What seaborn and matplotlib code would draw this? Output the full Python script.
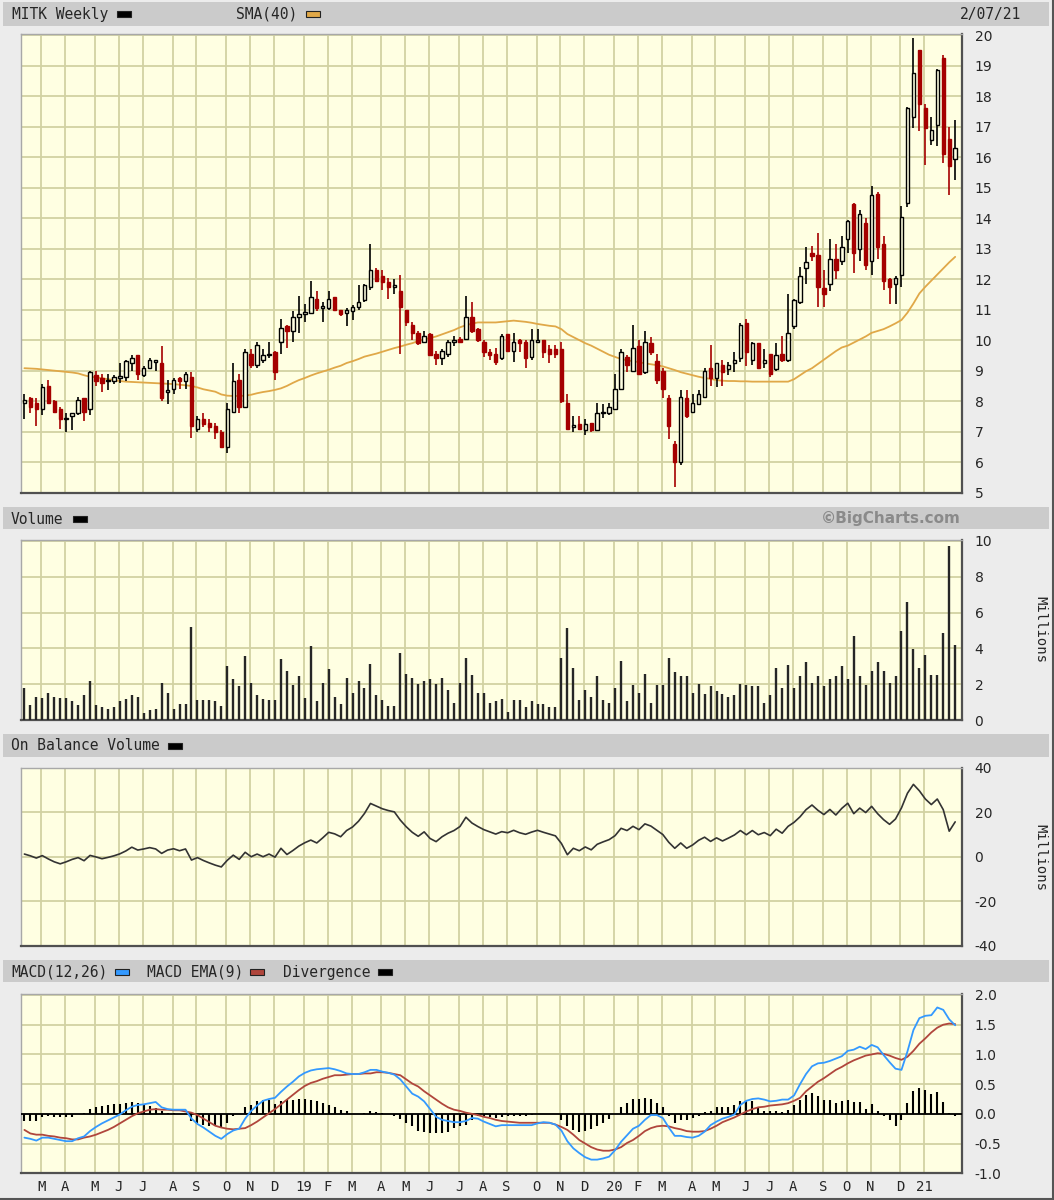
import numpy as np
import pandas as pd
import seaborn as sns
import matplotlib.pyplot as plt
from matplotlib.patches import Rectangle
from matplotlib.lines import Line2D

sns.set_style("white")
plt.rcParams["font.family"] = ["DejaVu Sans", "DejaVu Sans Mono"]
plt.rcParams["axes.unicode_minus"] = False

# weekly bars, one per week (week labelled by its Sunday)
weeks = pd.date_range("2018-02-11", periods=157, freq="W-SUN")

opens = [7.95, 8.1, 7.95, 7.75, 8.5, 8.0, 7.75, 7.4, 7.5, 7.6,
         8.1, 7.75, 8.85, 8.75, 8.65, 8.65, 8.75, 8.8, 9.25, 9.5,
         8.85, 9.1, 9.3, 9.25, 8.3, 8.4, 8.75, 8.65, 8.8, 7.1,
         7.4, 7.3, 7.2, 7.0, 6.5, 7.65, 8.7, 7.8, 9.55, 9.2,
         9.35, 9.5, 9.6, 9.95, 10.45, 10.3, 10.75, 10.85, 10.9, 11.35,
         11.05, 11.05, 11.4, 11.0, 10.9, 10.95, 11.1, 11.3, 11.75, 12.3,
         12.1, 11.9, 11.75, 11.6, 11.0, 10.5, 10.25, 9.95, 10.2, 9.55,
         9.4, 9.55, 9.95, 10.05, 10.05, 10.75, 10.35, 9.95, 9.6, 9.55,
         9.4, 10.2, 9.65, 10.0, 9.95, 9.45, 9.95, 10.0, 9.7, 9.7,
         9.7, 7.95, 7.15, 7.25, 7.05, 7.3, 7.05, 7.6, 7.62, 7.75,
         8.4, 9.45, 9.0, 9.8, 8.95, 9.9, 9.3, 9.0, 8.1, 6.6,
         6.0, 8.1, 7.65, 7.9, 8.15, 9.1, 8.75, 9.2, 9.05, 9.25,
         9.4, 10.55, 9.35, 9.9, 9.25, 9.55, 9.05, 9.55, 9.35, 10.45,
         11.25, 12.35, 12.85, 12.8, 11.7, 11.85, 12.65, 12.6, 13.3, 14.45,
         13.0, 13.85, 12.6, 14.8, 13.15, 12.0, 11.85, 12.15, 14.5, 17.3,
         19.5, 17.6, 16.55, 17.05, 19.25, 16.6, 15.95]
highs = [8.25, 8.15, 8.1, 8.55, 8.7, 8.05, 7.8, 7.6, 7.6, 8.15,
         8.1, 9.0, 9.0, 8.9, 8.9, 8.85, 9.25, 9.35, 9.5, 9.5,
         9.15, 9.4, 9.35, 9.8, 8.7, 8.75, 8.8, 8.95, 8.95, 7.5,
         7.6, 7.4, 7.3, 7.05, 7.95, 9.25, 8.9, 9.7, 9.7, 9.95,
         9.7, 9.95, 9.65, 10.7, 10.5, 10.95, 11.45, 11.2, 11.95, 11.6,
         11.25, 11.6, 11.4, 11.0, 11.05, 11.15, 11.8, 11.85, 13.15, 12.35,
         12.3, 12.05, 12.0, 12.15, 11.0, 10.6, 10.3, 10.3, 10.25, 9.65,
         9.7, 10.0, 10.15, 10.1, 11.45, 11.25, 10.4, 10.0, 9.7, 9.75,
         10.2, 10.2, 10.25, 10.05, 10.0, 10.35, 10.35, 10.0, 9.85, 9.85,
         9.95, 8.25, 7.5, 7.5, 7.4, 7.3, 7.95, 7.9, 7.95, 8.9,
         9.7, 9.5, 10.5, 10.0, 10.3, 10.1, 9.55, 9.1, 8.2, 6.7,
         8.35, 8.35, 8.25, 8.35, 9.1, 9.85, 9.25, 9.35, 9.3, 9.6,
         10.55, 10.7, 9.95, 9.9, 9.7, 9.55, 9.9, 10.15, 11.5, 11.35,
         12.4, 13.05, 13.1, 13.5, 12.3, 13.3, 13.15, 13.4, 13.95, 14.5,
         14.25, 14.0, 15.05, 14.85, 13.4, 12.05, 12.1, 14.4, 17.65, 19.9,
         19.5, 17.75, 17.3, 18.9, 19.35, 17.0, 17.2]
lows = [7.4, 7.6, 7.2, 7.55, 7.9, 7.6, 7.1, 6.98, 7.05, 7.55,
        7.35, 7.55, 8.5, 8.3, 8.35, 8.55, 8.6, 8.65, 9.0, 8.7,
        8.8, 9.05, 9.0, 8.0, 7.9, 8.25, 8.4, 8.4, 6.8, 7.0,
        7.15, 7.0, 6.75, 6.45, 6.3, 7.6, 7.6, 7.8, 9.1, 9.1,
        9.25, 9.4, 8.7, 9.55, 9.75, 9.95, 10.25, 10.6, 10.85, 10.95,
        10.6, 11.0, 10.95, 10.8, 10.45, 10.65, 11.0, 11.25, 11.65, 11.9,
        11.65, 11.35, 11.5, 9.55, 10.45, 10.0, 9.85, 9.9, 9.5, 9.2,
        9.2, 9.45, 9.8, 9.9, 10.05, 10.25, 9.95, 9.45, 9.35, 9.2,
        9.35, 9.6, 9.3, 9.6, 9.1, 9.35, 9.9, 9.4, 9.25, 9.4,
        7.95, 7.1, 7.0, 7.05, 6.9, 7.0, 7.05, 7.45, 7.55, 7.7,
        8.35, 8.95, 8.95, 8.9, 8.9, 9.5, 8.55, 8.1, 6.75, 5.2,
        5.9, 7.45, 7.6, 7.9, 8.1, 8.5, 8.45, 8.5, 8.85, 8.95,
        9.3, 9.15, 9.2, 9.1, 9.1, 8.8, 9.0, 9.3, 9.3, 10.35,
        11.2, 11.85, 12.6, 11.1, 11.1, 11.6, 12.0, 12.45, 12.85, 12.2,
        12.6, 12.3, 12.15, 12.65, 11.65, 11.2, 11.2, 11.75, 14.35, 16.95,
        16.85, 15.75, 16.4, 16.35, 15.8, 14.75, 15.25]
closes = [8.05, 7.8, 7.75, 8.45, 7.95, 7.65, 7.4, 7.45, 7.6, 8.05,
          7.65, 8.95, 8.65, 8.6, 8.7, 8.8, 8.8, 9.3, 9.4, 8.9,
          9.1, 9.35, 9.32, 8.1, 8.35, 8.7, 8.65, 8.9, 7.2, 7.4,
          7.25, 7.15, 7.0, 6.5, 7.75, 8.65, 7.8, 9.6, 9.2, 9.85,
          9.5, 9.55, 8.95, 10.4, 10.3, 10.75, 10.85, 10.9, 11.4, 11.05,
          11.1, 11.35, 11.0, 10.85, 11.0, 11.1, 11.25, 11.8, 12.3, 11.95,
          11.9, 11.75, 11.78, 11.1, 10.6, 10.25, 9.9, 10.15, 9.5, 9.4,
          9.65, 9.95, 10.0, 9.95, 10.75, 10.3, 10.0, 9.6, 9.5, 9.3,
          10.15, 9.65, 9.95, 9.9, 9.4, 10.0, 10.0, 9.6, 9.55, 9.55,
          8.0, 7.1, 7.2, 7.1, 7.25, 7.05, 7.6, 7.65, 7.8, 8.4,
          9.6, 9.2, 9.75, 8.9, 9.95, 9.6, 8.7, 8.4, 7.2, 6.0,
          8.15, 7.5, 7.95, 8.25, 9.0, 8.75, 9.25, 8.95, 9.2, 9.35,
          10.5, 9.6, 9.9, 9.1, 9.35, 8.9, 9.5, 9.35, 10.25, 11.3,
          12.1, 12.55, 12.75, 11.75, 11.5, 12.65, 12.3, 13.05, 13.9, 12.85,
          14.15, 12.45, 14.75, 13.05, 11.95, 11.75, 12.05, 14.05, 17.6, 18.75,
          17.75, 16.95, 16.9, 18.85, 16.1, 15.7, 16.3]
sma40 = [9.08, 9.07, 9.06, 9.04, 9.02, 9.0, 8.98, 8.96, 8.94, 8.91,
         8.85, 8.8, 8.78, 8.75, 8.72, 8.69, 8.66, 8.64, 8.63, 8.62,
         8.61, 8.6, 8.59, 8.58, 8.57, 8.56, 8.54, 8.52, 8.5, 8.45,
         8.39, 8.35, 8.31, 8.22, 8.18, 8.17, 8.17, 8.18, 8.21, 8.26,
         8.3, 8.33, 8.37, 8.42, 8.5, 8.6, 8.69, 8.76, 8.84, 8.91,
         8.97, 9.03, 9.1, 9.16, 9.25, 9.31, 9.38, 9.46, 9.51, 9.56,
         9.62, 9.68, 9.74, 9.79, 9.85, 9.9, 9.97, 10.03, 10.07, 10.12,
         10.19, 10.26, 10.33, 10.42, 10.49, 10.54, 10.58, 10.58, 10.58, 10.58,
         10.6, 10.62, 10.64, 10.62, 10.6, 10.57, 10.53, 10.5, 10.47, 10.45,
         10.36, 10.2, 10.1, 10.0, 9.9, 9.82, 9.72, 9.62, 9.52, 9.45,
         9.38, 9.34, 9.31, 9.28, 9.24, 9.21, 9.18, 9.14, 9.08, 9.02,
         8.95, 8.9, 8.85, 8.8, 8.76, 8.73, 8.69, 8.67, 8.66, 8.66,
         8.65, 8.65, 8.64, 8.64, 8.64, 8.64, 8.64, 8.64, 8.64, 8.72,
         8.85, 8.98, 9.08, 9.22, 9.36, 9.5, 9.64, 9.76, 9.82, 9.92,
         10.02, 10.12, 10.24, 10.3, 10.36, 10.45, 10.55, 10.66, 10.9, 11.2,
         11.53, 11.75, 11.95, 12.15, 12.35, 12.55, 12.73]
volume = [1.8, 0.83, 1.3, 1.24, 1.54, 1.3, 1.24, 1.24, 1.06, 0.83,
          1.39, 2.19, 0.83, 0.74, 0.65, 0.74, 1.06, 1.2, 1.39, 1.3,
          0.41, 0.56, 0.65, 2.09, 1.54, 0.65, 0.89, 0.89, 5.19, 1.15,
          1.15, 1.15, 1.06, 0.8, 3.0, 2.28, 1.89, 3.57, 2.09, 1.39,
          1.2, 1.15, 1.15, 3.43, 2.74, 1.94, 2.44, 1.24, 4.13, 1.06,
          2.09, 2.85, 1.3, 0.89, 2.35, 1.54, 2.19, 1.8, 3.15, 1.39,
          1.15, 0.8, 0.8, 3.74, 2.59, 2.35, 2.04, 2.19, 2.28, 2.04,
          2.35, 1.7, 0.98, 2.09, 3.48, 2.54, 1.54, 1.54, 0.98, 1.06,
          1.2, 0.46, 1.15, 1.15, 0.74, 1.06, 0.89, 0.89, 0.74, 0.74,
          3.48, 5.13, 2.93, 1.15, 1.7, 1.3, 2.44, 1.15, 0.98, 1.8,
          3.33, 1.06, 1.94, 1.54, 2.59, 0.98, 1.94, 1.94, 3.48, 2.69,
          2.44, 2.44, 1.54, 2.04, 1.44, 1.89, 1.63, 1.44, 1.3, 1.39,
          2.04, 1.94, 1.89, 1.89, 0.98, 1.39, 2.93, 1.8, 3.09, 1.8,
          2.44, 3.24, 2.09, 2.44, 1.89, 2.28, 2.44, 3.0, 2.28, 4.69,
          2.44, 1.94, 2.74, 3.24, 2.74, 2.09, 2.44, 4.96, 6.59, 3.98,
          2.93, 3.65, 2.5, 2.5, 4.85, 9.69, 4.22]
obv = [1.2, 0.4, -0.6, 0.5, -1.0, -2.3, -3.2, -2.3, -1.2, -0.4,
       -1.8, 0.6, -0.1, -0.9, -0.3, 0.4, 1.3, 2.6, 4.3, 3.0,
       3.5, 4.1, 3.5, 1.5, 3.0, 3.6, 2.7, 3.5, -1.5, -0.4,
       -1.7, -2.8, -3.8, -4.6, -1.6, 0.7, -1.2, 2.0, 0.0, 1.2,
       0.0, 1.2, -0.2, 3.8, 1.0, 2.8, 4.8, 6.3, 7.5, 6.2,
       8.5, 11.0, 10.3, 9.0, 11.8, 13.4, 16.0, 19.5, 24.0, 22.8,
       21.6, 20.8, 20.2, 16.5, 13.5, 11.0, 9.2, 11.2, 8.2, 6.8,
       9.0, 10.6, 11.8, 13.6, 17.8, 15.2, 13.6, 12.2, 11.2, 10.2,
       11.3, 10.8, 11.9, 10.8, 10.1, 11.1, 11.9, 11.0, 10.2, 9.4,
       6.0, 0.9, 3.8, 2.7, 4.4, 3.1, 5.6, 6.7, 7.7, 9.5,
       12.8, 11.8, 13.7, 12.2, 14.8, 13.8, 11.9, 10.0, 6.5, 3.8,
       6.2, 3.8, 5.3, 7.4, 8.8, 6.9, 8.5, 7.1, 8.4, 9.8,
       11.8, 9.9, 11.8, 9.9, 10.9, 9.5, 12.4, 10.6, 13.7, 15.5,
       18.0, 21.2, 23.3, 20.9, 19.0, 21.3, 18.8, 21.8, 24.1, 19.4,
       21.9, 19.9, 22.7, 19.4, 16.7, 14.6, 17.0, 22.0, 28.6, 32.6,
       29.7, 26.0, 23.5, 26.0, 21.2, 11.5, 15.7]
macd = [-0.40, -0.42, -0.45, -0.40, -0.40, -0.42, -0.44, -0.46, -0.46, -0.41,
        -0.38, -0.29, -0.22, -0.16, -0.11, -0.06, -0.01, 0.06, 0.12, 0.15,
        0.16, 0.18, 0.20, 0.11, 0.08, 0.07, 0.07, 0.07, -0.08, -0.17,
        -0.23, -0.30, -0.37, -0.42, -0.34, -0.28, -0.25, -0.08, 0.05, 0.14,
        0.22, 0.25, 0.27, 0.37, 0.46, 0.54, 0.63, 0.69, 0.73, 0.75,
        0.76, 0.77, 0.75, 0.72, 0.68, 0.67, 0.67, 0.70, 0.74, 0.74,
        0.71, 0.69, 0.66, 0.58, 0.46, 0.34, 0.29, 0.21, 0.08, -0.05,
        -0.10, -0.12, -0.14, -0.14, -0.12, -0.07, -0.08, -0.13, -0.17, -0.21,
        -0.19, -0.19, -0.19, -0.19, -0.19, -0.19, -0.16, -0.14, -0.15, -0.18,
        -0.28, -0.46, -0.58, -0.66, -0.73, -0.77, -0.77, -0.75, -0.72, -0.61,
        -0.47, -0.36, -0.25, -0.20, -0.10, -0.02, -0.02, -0.07, -0.23, -0.37,
        -0.37, -0.39, -0.40, -0.37, -0.30, -0.19, -0.13, -0.08, -0.05, -0.01,
        0.15, 0.22, 0.25, 0.26, 0.24, 0.21, 0.22, 0.24, 0.24, 0.31,
        0.50, 0.67, 0.80, 0.85, 0.86, 0.89, 0.93, 0.97, 1.06, 1.08,
        1.13, 1.09, 1.16, 1.12, 0.99, 0.87, 0.76, 0.74, 1.05, 1.41,
        1.61, 1.65, 1.66, 1.79, 1.75, 1.59, 1.49]
macd_ema = [-0.27, -0.33, -0.35, -0.35, -0.37, -0.38, -0.40, -0.41, -0.43, -0.43,
            -0.40, -0.38, -0.35, -0.31, -0.27, -0.22, -0.16, -0.10, -0.04, 0.01,
            0.04, 0.07, 0.08, 0.07, 0.07, 0.06, 0.06, 0.04, 0.02, -0.02,
            -0.08, -0.14, -0.20, -0.23, -0.25, -0.26, -0.25, -0.24, -0.19, -0.13,
            -0.06, 0.01, 0.08, 0.16, 0.24, 0.32, 0.40, 0.47, 0.52, 0.55,
            0.59, 0.62, 0.65, 0.65, 0.66, 0.67, 0.67, 0.68, 0.68, 0.70,
            0.70, 0.69, 0.67, 0.65, 0.58, 0.51, 0.46, 0.38, 0.31, 0.24,
            0.17, 0.11, 0.07, 0.05, 0.02, 0.0, -0.02, -0.05, -0.07, -0.10,
            -0.12, -0.13, -0.14, -0.15, -0.15, -0.15, -0.15, -0.15, -0.15, -0.18,
            -0.22, -0.27, -0.35, -0.44, -0.50, -0.56, -0.60, -0.62, -0.62, -0.60,
            -0.56, -0.49, -0.44, -0.37, -0.29, -0.24, -0.21, -0.20, -0.21, -0.24,
            -0.26, -0.29, -0.30, -0.30, -0.29, -0.25, -0.20, -0.14, -0.10, -0.06,
            -0.01, 0.04, 0.08, 0.11, 0.12, 0.14, 0.15, 0.16, 0.18, 0.22,
            0.27, 0.38, 0.46, 0.54, 0.60, 0.67, 0.74, 0.79, 0.85, 0.90,
            0.94, 0.98, 1.00, 1.02, 1.01, 0.98, 0.94, 0.91, 0.96, 1.06,
            1.18, 1.27, 1.37, 1.45, 1.50, 1.52, 1.51]
divergence = [-0.12, -0.12, -0.12, -0.06, -0.03, -0.06, -0.06, -0.06, -0.06, 0.0,
              0.02, 0.08, 0.11, 0.14, 0.15, 0.16, 0.17, 0.18, 0.20, 0.18,
              0.15, 0.14, 0.10, 0.04, 0.01, 0.01, 0.0, 0.0, -0.12, -0.16,
              -0.19, -0.21, -0.21, -0.24, -0.16, -0.03, 0.0, 0.11, 0.15, 0.22,
              0.24, 0.24, 0.17, 0.22, 0.24, 0.24, 0.25, 0.25, 0.24, 0.21,
              0.18, 0.15, 0.11, 0.07, 0.04, 0.0, 0.0, 0.02, 0.05, 0.03,
              0.02, 0.0, -0.03, -0.09, -0.16, -0.21, -0.28, -0.30, -0.33, -0.33,
              -0.33, -0.30, -0.24, -0.20, -0.19, -0.10, -0.04, -0.04, -0.06, -0.07,
              -0.05, -0.04, -0.04, -0.03, -0.03, -0.02, -0.01, 0.0, 0.0, 0.0,
              -0.11, -0.21, -0.27, -0.30, -0.28, -0.25, -0.20, -0.16, -0.09, -0.01,
              0.11, 0.18, 0.25, 0.25, 0.26, 0.25, 0.18, 0.12, -0.04, -0.16,
              -0.11, -0.10, -0.07, -0.03, 0.03, 0.05, 0.12, 0.12, 0.12, 0.15,
              0.22, 0.22, 0.21, 0.11, 0.05, 0.05, 0.04, 0.03, 0.07, 0.15,
              0.24, 0.32, 0.35, 0.30, 0.24, 0.24, 0.18, 0.21, 0.24, 0.20,
              0.20, 0.08, 0.16, 0.05, -0.04, -0.10, -0.21, -0.10, 0.18, 0.39,
              0.44, 0.40, 0.33, 0.36, 0.20, 0.02, -0.03]

df = pd.DataFrame({"week": weeks, "open": opens, "high": highs, "low": lows,
                   "close": closes, "sma40": sma40, "volume": volume, "obv": obv,
                   "macd": macd, "macd_ema": macd_ema, "divergence": divergence})

PANEL = "#ffffe2"
GRID = "#d2d2a2"
BG = "#ececec"
BAND = "#cbcbcb"
RED = "#a50000"
W, H = 1054, 1200

fig = plt.figure(figsize=(W / 100, H / 100), dpi=100, facecolor=BG)


def box(top, bottom):
    # axes rectangle from pixel rows of the reference
    return [21 / W, 1 - bottom / H, 941 / W, (bottom - top) / H]


ax_p = fig.add_axes(box(33.5, 492.7))
ax_v = fig.add_axes(box(539.5, 720.3), sharex=ax_p)
ax_o = fig.add_axes(box(767.5, 945.5), sharex=ax_p)
ax_m = fig.add_axes(box(993.5, 1173.3), sharex=ax_p)

# header bands
for top, bottom in [(2, 26), (507, 529), (734, 757), (960, 982)]:
    fig.patches.append(Rectangle((3 / W, 1 - bottom / H), 1046 / W, (bottom - top) / H,
                                 transform=fig.transFigure, facecolor=BAND,
                                 edgecolor="none", zorder=0))

# dark outer edge on the right and bottom of the picture
fig.add_artist(Line2D([1052.5 / W, 1052.5 / W], [0, 1], color="#555555", lw=1.5))
fig.add_artist(Line2D([0, 1], [1.2 / H, 1.2 / H], color="#555555", lw=1.5))


def swatch(x, y, color):
    fig.patches.append(Rectangle((x / W, 1 - (y + 3) / H), 14 / W, 6 / H,
                                 transform=fig.transFigure, facecolor=color,
                                 edgecolor="#222222", lw=0.8, zorder=3))


hfont = dict(family="DejaVu Sans Mono", fontsize=10.5, va="center")
fig.text(12 / W, 1 - 14 / H, "MITK Weekly", **hfont)
swatch(117, 14, "black")
fig.text(236 / W, 1 - 14 / H, "SMA(40)", **hfont)
swatch(306, 14, "#e0a848")
fig.text(1021 / W, 1 - 14 / H, "2/07/21", ha="right", **hfont)
fig.text(11 / W, 1 - 519 / H, "Volume", **hfont)
swatch(73, 519, "black")
fig.text(961 / W, 1 - 519 / H, "©BigCharts.com", ha="right", va="center",
         fontsize=11, fontweight="bold", color="#8a8a8a")
fig.text(11 / W, 1 - 746 / H, "On Balance Volume", **hfont)
swatch(168, 746, "black")
fig.text(11 / W, 1 - 972 / H, "MACD(12,26)", **hfont)
swatch(115, 972, "#3399ff")
fig.text(147 / W, 1 - 972 / H, "MACD EMA(9)", **hfont)
swatch(250, 972, "#b0463c")
fig.text(283 / W, 1 - 972 / H, "Divergence", **hfont)
swatch(378, 972, "black")

for y in (630, 857):
    fig.text(1040 / W, 1 - y / H, "Millions", rotation=270, ha="center", va="center",
             family="DejaVu Sans Mono", fontsize=10)

# candlesticks
up = df["close"] >= df["open"]
ax_p.vlines(df["week"], df["low"], df["high"], colors=np.where(up, "black", RED),
            lw=1.2, zorder=3)
ax_p.bar(df["week"], (df["close"] - df["open"]).abs().clip(lower=0.06),
         bottom=df[["open", "close"]].min(axis=1), width=4.0,
         color=np.where(up, PANEL, RED), edgecolor=np.where(up, "black", RED),
         linewidth=1.0, zorder=4)
sns.lineplot(data=df, x="week", y="sma40", ax=ax_p, color="#e0a848", lw=1.3, zorder=2)

# volume
ax_v.vlines(df["week"], 0, df["volume"], colors="#262626", lw=1.7, zorder=3)

# on balance volume
sns.lineplot(data=df, x="week", y="obv", ax=ax_o, color="#333333", lw=1.2, zorder=3)

# MACD
ax_m.axhline(0, color="black", lw=1.3, zorder=3)
ax_m.vlines(df["week"], 0, df["divergence"], colors="black", lw=1.5, zorder=3)
sns.lineplot(data=df, x="week", y="macd_ema", ax=ax_m, color="#b0463c", lw=1.3, zorder=4)
sns.lineplot(data=df, x="week", y="macd", ax=ax_m, color="#3399ff", lw=1.3, zorder=5)

# month grid: just before the first weekly bar of each full month shown
firsts = df.groupby([df["week"].dt.year, df["week"].dt.month])["week"].min().iloc[1:-1]
grid_x = list(firsts - pd.Timedelta(days=1.2))
month_labels = [f"{d.year % 100:02d}" if d.month == 1 else "JFMAMJJASOND"[d.month - 1]
                for d in firsts]

specs = [
    (ax_p, (5, 20.05), np.arange(5, 21, 1), "{:.0f}"),
    (ax_v, (0, 10.07), np.arange(0, 11, 2), "{:.0f}"),
    (ax_o, (-40, 40.2), np.arange(-40, 41, 20), "{:.0f}"),
    (ax_m, (-1.0, 2.025), np.arange(-1.0, 2.01, 0.5), "{:.1f}"),
]
for ax, ylim, yt, fmt in specs:
    ax.set_facecolor(PANEL)
    ax.set_ylim(*ylim)
    ax.set_yticks(yt)
    ax.set_yticklabels([fmt.format(v) for v in yt])
    ax.yaxis.tick_right()
    ax.tick_params(axis="y", length=0, pad=9, labelsize=10)
    ax.set_xticks(grid_x)
    ax.tick_params(axis="x", length=0)
    ax.grid(True, color=GRID, lw=1.3, zorder=0)
    ax.set_axisbelow(True)
    ax.set_xlabel("")
    ax.set_ylabel("")
    for side in ("top", "left"):
        ax.spines[side].set_color("#a8a8a8")
        ax.spines[side].set_linewidth(1.0)
    for side in ("right", "bottom"):
        ax.spines[side].set_color("#505050")
        ax.spines[side].set_linewidth(1.6)

ax_p.set_xlim(weeks[0] - pd.Timedelta(days=4), weeks[-1] + pd.Timedelta(days=8))
for ax in (ax_p, ax_v, ax_o):
    ax.tick_params(axis="x", labelbottom=False)
ax_m.set_xticklabels(month_labels, family="DejaVu Sans Mono", fontsize=10)
ax_m.tick_params(axis="x", pad=5)

fig.savefig("out.png", dpi=100, facecolor=BG)
